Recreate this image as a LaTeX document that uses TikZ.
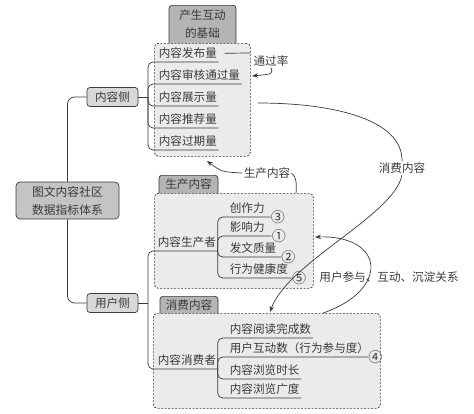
\documentclass[tikz,border=0pt]{standalone}
\usepackage{fontspec}
\newfontfamily\cjk{Noto Sans CJK SC}
\usetikzlibrary{arrows.meta}
\definecolor{ink}{HTML}{3A3A3A}
\definecolor{rootgray}{HTML}{C4C4C4}
\definecolor{tabgray}{HTML}{B4B4B4}
\definecolor{sidegray}{HTML}{D8D8D8}
\definecolor{groupgray}{HTML}{EBEBEB}
\begin{document}
\begin{tikzpicture}[x=1pt,y=-1pt,color=ink,line width=0.7pt,>={Stealth[length=6pt,width=4.5pt]}]
\tikzstyle{txt}=[font=\cjk\fontsize{11.6}{14}\selectfont,text=ink]
\tikzstyle{root}=[txt,draw,fill=rootgray,rounded corners=4pt,align=center,minimum width=103pt,minimum height=37pt,inner sep=0pt,font=\cjk\fontsize{11.8}{18}\selectfont]
\tikzstyle{side}=[txt,draw,fill=sidegray,rounded corners=3pt,minimum width=51pt,minimum height=19pt,inner sep=0pt]
\tikzstyle{tab}=[txt,draw,fill=tabgray,rounded corners=3pt,inner sep=0pt,align=center,anchor=north]
\tikzstyle{group}=[draw,dash pattern=on 2pt off 1.5pt,fill=groupgray,rounded corners=4pt,anchor=north west,inner sep=0pt]
\tikzstyle{leaf}=[txt,anchor=south west,inner xsep=1.5pt,inner ysep=3pt]
\tikzstyle{num}=[txt,anchor=west,inner sep=0pt,font=\cjk\fontsize{14}{14}\selectfont]
\tikzstyle{branch}=[rounded corners=5pt]
\tikzstyle{note}=[txt,inner sep=1pt]
\useasboundingbox (0,0) rectangle (474,413);

\node[tab,minimum width=67pt,minimum height=42pt,font=\cjk\fontsize{11.6}{18}\selectfont,text depth=5.5pt] (basis) at (202.5,5) {产生互动\\的基础};
\node[tab,minimum width=59pt,minimum height=22pt,text depth=5.4pt] (ptab) at (188.5,175) {生产内容};
\node[tab,minimum width=58pt,minimum height=21pt,text depth=5.4pt] (utab) at (189,296) {消费内容};

\node[group,minimum width=96pt,minimum height=113pt] (cbox) at (154,43) {};
\node[group,minimum width=159pt,minimum height=95pt] (pbox) at (154,193) {};
\node[group,minimum width=227pt,minimum height=95pt] (ubox) at (153,313) {};

\node[root] (root) at (67.5,200.5) {图文内容社区\\数据指标体系};
\node[side] (cside) at (112.5,97) {内容侧};
\node[side] (uside) at (112.5,303) {用户侧};
\draw[rounded corners=7pt] (root) |- (cside);
\draw[rounded corners=7pt] (root) |- (uside);

\coordinate (cj) at (148,97);
\draw (cside) -- (cj);
\node[leaf] (pub) at (157,62) {内容发布量};
\node[leaf] (aud) at (157,84) {内容审核通过量};
\node[leaf] (disp) at (157,106) {内容展示量};
\node[leaf] (rec) at (157,128) {内容推荐量};
\node[leaf] (exp) at (157,150) {内容过期量};
\draw[branch] (cj) |- (pub.south east);
\draw[branch] (cj) |- (aud.south east);
\draw[branch] (cj) |- (disp.south east);
\draw[branch] (cj) |- (rec.south east);
\draw[branch] (cj) |- (exp.south east);

\node[note] (rate) at (271,61) {通过率};
\coordinate (ratein) at (250,53);
\coordinate (audin) at (252,76);
\draw ([xshift=6pt]pub.east) -- (ratein);
\draw[->] (rate.south) .. controls (273,74) .. (audin);

\coordinate (uj) at (148,303);
\draw (uside) -- (uj);
\node[leaf] (maker) at (156,251) {内容生产者};
\draw[branch] (uj) |- (maker.south east);
\node[leaf] (cre) at (228,217) {创作力};
\node[num] (n3) at ([xshift=4pt]cre.south east) {③};
\node[leaf] (inf) at (228,236) {影响力};
\node[num] (n1) at ([xshift=5pt]inf.south east) {①};
\node[leaf] (qual) at (228,257) {发文质量};
\node[num] (n2) at ([xshift=3pt]qual.south east) {②};
\node[leaf] (beh) at (228,278) {行为健康度};
\node[num] (n5) at ([xshift=2pt]beh.south east) {⑤};
\draw[branch] (maker.south east) |- (n3.west);
\draw[branch] (maker.south east) |- (n1.west);
\draw[branch] (maker.south east) |- (n2.west);
\draw[branch] (maker.south east) |- (n5.west);

\node[leaf] (user) at (156,369) {内容消费者};
\draw[branch] (uj) |- (user.south east);
\node[leaf] (read) at (228,338) {内容阅读完成数};
\node[leaf] (act) at (228,357) {用户互动数（行为参与度）\kern-3pt};
\node[num] (n4) at ([xshift=0pt]act.south east) {④};
\node[leaf] (dur) at (228,379) {内容浏览时长};
\node[leaf] (wid) at (228,398) {内容浏览广度};
\draw[branch] (user.south east) |- (read.south east);
\draw[branch] (user.south east) |- (n4.west);
\draw[branch] (user.south east) |- (dur.south east);
\draw[branch] (user.south east) |- (wid.south east);

\node[note] (plab) at (267,173) {生产内容};
\coordinate (pup) at (296,193);
\coordinate (cdown) at (207,161);
\draw (pup) .. controls (297,184) and (296,176) .. (plab.east);
\draw[->] (plab.west) .. controls (222,172) .. (cdown);

\node[note] (clab) at (402,168) {消费内容};
\coordinate (cout) at (258,103);
\coordinate (udown) at (270,312);
\draw (cout) .. controls (335,103) and (403,120) .. (clab.north);
\draw[->] (clab.south) .. controls (395,215) and (288,262) .. (udown);

\node[note] (rlab) at (389,277) {用户参与、互动、沉淀关系};
\coordinate (uup) at (323,313);
\coordinate (pin) at (315,237);
\draw[->] (uup) .. controls (390,290) and (385,235) .. (pin);
\end{tikzpicture}
\end{document}
